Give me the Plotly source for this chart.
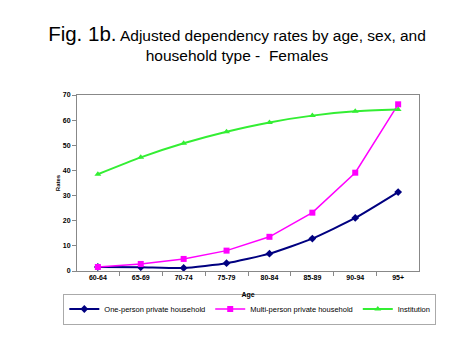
import plotly.graph_objects as go

ages = ["60-64", "65-69", "70-74", "75-79", "80-84", "85-89", "90-94", "95+"]
one_person = [1.6, 1.5, 1.2, 3.1, 6.9, 12.9, 21.1, 31.4]
multi_person = [1.6, 2.8, 4.8, 8.1, 13.6, 23.2, 39.1, 66.3]
institution = [38.5, 45.2, 50.8, 55.4, 59.1, 61.8, 63.5, 64.2]
series_names = ["One-person private household", "Multi-person private household", "Institution"]
y_ticks = [0, 10, 20, 30, 40, 50, 60, 70]

GREEN = "#33EE33"
fig = go.Figure()
fig.add_trace(go.Scatter(x=ages, y=one_person, name=series_names[0], mode="lines+markers",
                         line=dict(color="#000080", width=2, shape="spline", smoothing=0.5),
                         marker=dict(symbol="diamond", size=6, color="#000080")))
fig.add_trace(go.Scatter(x=ages, y=multi_person, name=series_names[1], mode="lines+markers",
                         line=dict(color="#FF00FF", width=1.5),
                         marker=dict(symbol="square", size=6, color="#FF00FF")))
fig.add_trace(go.Scatter(x=ages, y=institution, name=series_names[2], mode="lines+markers",
                         line=dict(color=GREEN, width=2, shape="spline", smoothing=0.5),
                         marker=dict(symbol="triangle-up", size=6, color=GREEN)))

W, H = 466, 347
fig.update_layout(
    width=W, height=H,
    margin=dict(l=69, r=55, t=87, b=84, autoexpand=False),
    paper_bgcolor="white", plot_bgcolor="white",
    font=dict(family="Liberation Sans, Arial, sans-serif", color="black"),
    showlegend=True,
    legend=dict(orientation="h", x=-0.04, y=-0.216, xanchor="left", yanchor="middle",
                bordercolor="#AAAAAA", borderwidth=1, font=dict(size=7.5),
                itemwidth=30, tracegroupgap=0),
    title=dict(
        text="<span style='font-size:20.5px'>Fig. 1b.</span> Adjusted dependency rates by age, sex, and<br>household type -  Females",
        x=(237 - 8) / W, xref="container", xanchor="center", y=1 - 33 / H, yref="container", yanchor="top",
        font=dict(size=15.5, color="black")),
)

fig.update_xaxes(type="category", tickson="boundaries", ticks="outside", ticklen=4,
                 tickcolor="#888888", showline=True, linecolor="#888888", mirror=True,
                 showgrid=False, tickfont=dict(size=7, weight="bold"),
                 title=dict(text="<b>Age</b>", font=dict(size=7), standoff=11))
fig.update_yaxes(range=[0, 70], tickvals=y_ticks, ticks="outside", ticklen=4, tickcolor="#888888",
                 showline=True, linecolor="#888888", mirror=True, showgrid=False, zeroline=False,
                 tickfont=dict(size=7, weight="bold"),
                 title=dict(text="<b>Rates</b>", font=dict(size=6), standoff=1))

fig.write_html("out.html")
